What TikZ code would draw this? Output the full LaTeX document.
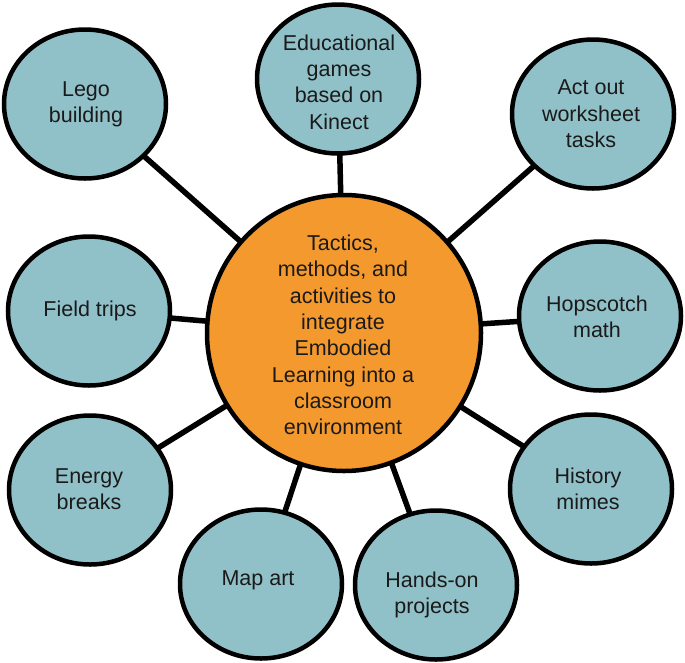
\documentclass[tikz,border=0pt]{standalone}
\usepackage{fontspec}
\setmainfont{Liberation Sans}
\usetikzlibrary{shapes.geometric,backgrounds}
\definecolor{tealfill}{RGB}{145,193,200}
\definecolor{orangefill}{RGB}{244,153,46}
\definecolor{txt}{RGB}{26,26,26}
\tikzset{
  leaf/.style={ellipse, draw=black, line width=4.5pt, fill=tealfill, minimum width=162pt, minimum height=149pt, inner sep=0pt},
  hub/.style={ellipse, draw=black, line width=4.5pt, fill=orangefill, minimum width=274pt, minimum height=276pt, inner sep=0pt},
  lbl/.style={align=center, text=txt, inner sep=0pt, font=\fontsize{21.5}{26.3}\selectfont},
  conn/.style={draw=black, line width=5.5pt}
}
\begin{document}
\begin{tikzpicture}[x=1pt,y=-1pt]
\useasboundingbox (0,0) rectangle (685,662);
\node[hub] (c) at (344,333) {};
\node[lbl] (cT) at (343,335) {Tactics,\\methods, and\\activities to\\integrate\\Embodied\\Learning into a\\classroom\\environment};
\node[leaf] (lego) at (85,104) {};
\node[lbl] (legoT) at (86,104) {Lego\\building};
\node[leaf] (edu) at (338,79) {};
\node[lbl] (eduT) at (339,82) {Educational\\games\\based on\\Kinect};
\node[leaf] (act) at (593,114) {};
\node[lbl] (actT) at (591,114) {Act out\\worksheet\\tasks};
\node[leaf] (field) at (89,311) {};
\node[lbl] (fieldT) at (90,311) {Field trips};
\node[leaf] (hop) at (600,316) {};
\node[lbl] (hopT) at (597,317) {Hopscotch\\math};
\node[leaf] (energy) at (90,490) {};
\node[lbl] (energyT) at (89,489) {Energy\\breaks};
\node[leaf] (hist) at (591,489) {};
\node[lbl] (histT) at (588,489) {History\\mimes};
\node[leaf] (map) at (261,584) {};
\node[lbl] (mapT) at (258,580) {Map art};
\node[leaf] (hands) at (436,585) {};
\node[lbl] (handsT) at (432,595) {Hands-on\\projects};
\begin{scope}[on background layer]
\foreach \n in {lego,edu,act,field,hop,energy,hist,map,hands}
  \draw[conn] (c.center) -- (\n.center);
\end{scope}
\end{tikzpicture}
\end{document}
